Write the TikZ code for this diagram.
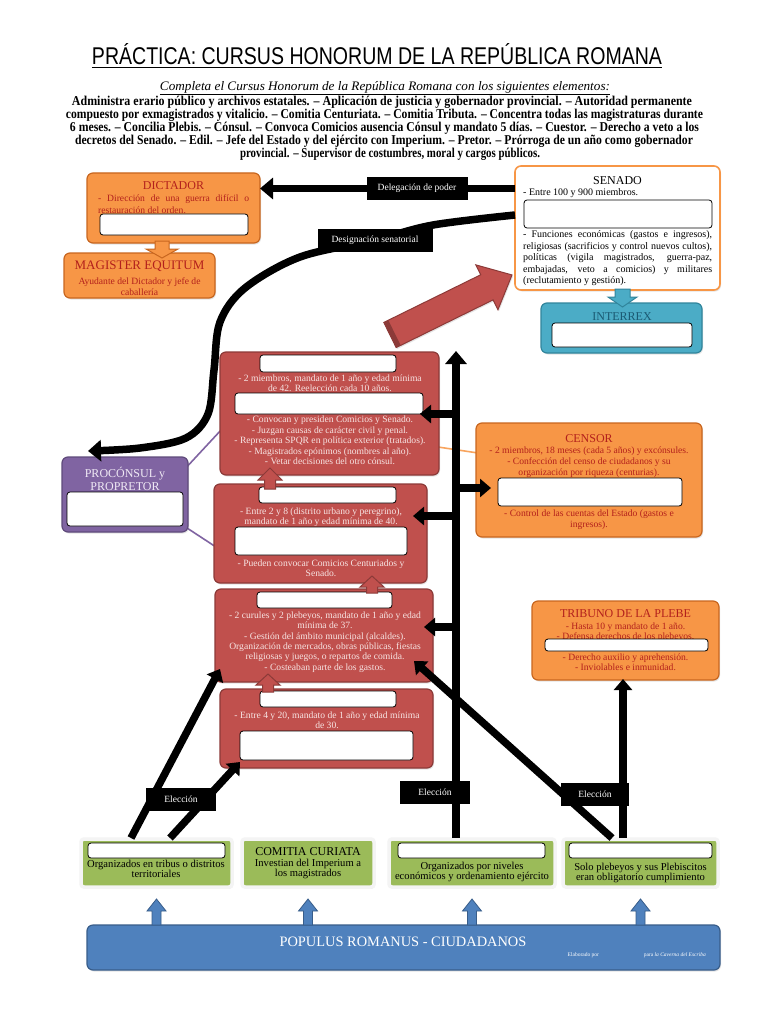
\documentclass[tikz,border=0pt]{standalone}
\usepackage{fontspec}
\usepackage{graphicx}
\setmainfont{Liberation Serif}
\newfontfamily\titlef{Liberation Sans}
\usetikzlibrary{arrows.meta,shadows,calc}
\definecolor{orF}{HTML}{F79646}
\definecolor{orD}{HTML}{C8661F}
\definecolor{orL}{HTML}{F8A45E}
\definecolor{dred}{HTML}{B3201C}
\definecolor{rF}{HTML}{C0504D}
\definecolor{rD}{HTML}{8C3A38}
\definecolor{rT}{HTML}{F7E4E3}
\definecolor{pF}{HTML}{8064A2}
\definecolor{pD}{HTML}{5F4A7B}
\definecolor{pT}{HTML}{F0EAF5}
\definecolor{cF}{HTML}{4BACC6}
\definecolor{cD}{HTML}{31859C}
\definecolor{cT}{HTML}{1B5A73}
\definecolor{gF}{HTML}{9BBB59}
\definecolor{gW}{HTML}{F4F4F4}
\definecolor{bF}{HTML}{4F81BD}
\definecolor{bD}{HTML}{385D8A}
\newcommand{\abox}[6]{\node[#1, minimum width={(#5-#3)*1pt}, minimum height={(#6-#4)*1pt}] (#2) at ({(#3+#5)/2},{(#4+#6)/2}) {};}
\tikzset{
  shd/.style={drop shadow={shadow xshift=1pt, shadow yshift=-1.5pt, opacity=.22}},
  bx/.style={rounded corners=6pt, line width=1.2pt, inner sep=0pt, outer sep=0pt},
  obox/.style={bx, shd, fill=orF, draw=orD},
  rbox/.style={bx, shd, fill=rF, draw=rD},
  pbox/.style={bx, shd, fill=pF, draw=pD},
  cbox/.style={bx, shd, fill=cF, draw=cD},
  sbox/.style={bx, shd, fill=white, draw=orF, line width=1.6pt},
  gbox/.style={rounded corners=3pt, shd, fill=gF, draw=gW, line width=3.5pt, inner sep=0pt},
  popbox/.style={bx, shd, fill=bF, draw=bD},
  blank/.style={rounded corners=3pt, fill=white, draw=black, line width=0.8pt, inner sep=0pt},
  rt/.style={inner sep=0pt, align=center, text=rT, font=\fontsize{9.6}{10.4}\selectfont},
  ot/.style={inner sep=0pt, align=center, text=dred, font=\fontsize{9.6}{10.8}\selectfont},
  bt/.style={inner sep=0pt, align=center, text=black, font=\fontsize{10}{11.5}\selectfont},
  gt/.style={inner sep=0pt, align=center, text=black, font=\fontsize{10.6}{10.5}\selectfont},
  lbl/.style={fill=black, text=white, inner sep=0pt, minimum height=23pt, font=\fontsize{9.5}{10}\selectfont},
  conn/.style={line width=7.5pt, draw=black},
  arr/.style={conn, -{Triangle[length=13pt,width=21pt]}},
  sarr/.style={conn, -{Triangle[length=11pt,width=18pt]}},
  thin/.style={line width=1.6pt},
  instr/.style={inner sep=0pt, font=\bfseries\fontsize{13.5}{14}\selectfont},
}
\begin{document}
\begin{tikzpicture}[x=1pt,y=-1pt]
\useasboundingbox (0,0) rectangle (768,1024);
\fill[white] (0,0) rectangle (768,1024);

% title and instructions
\node[font=\titlef, inner sep=0pt] (title) at (377,54) {\resizebox{570pt}{21pt}{PRÁCTICA: CURSUS HONORUM DE LA REPÚBLICA ROMANA}};
\draw[line width=1pt] ([yshift=-3pt]title.south west) -- ([yshift=-3pt]title.south east);
\node[inner sep=0pt, font=\itshape\fontsize{13}{14}\selectfont] (intro) at (385,88) {\resizebox{450pt}{\height}{\underline{Completa el Cursus Honorum de la República Romana con los siguientes elementos:}}};
\node[instr] (l1) at (382,102) {\resizebox{620pt}{\height}{Administra erario público y archivos estatales. – Aplicación de justicia y gobernador provincial. – Autoridad permanente}};
\node[instr] (l2) at (384.5,115) {\resizebox{637pt}{\height}{compuesto por exmagistrados y vitalicio. – Comitia Centuriata. – Comitia Tributa. – Concentra todas las magistraturas durante}};
\node[instr] (l3) at (384.5,128) {\resizebox{629pt}{\height}{6 meses. – Concilia Plebis. – Cónsul. – Convoca Comicios ausencia Cónsul y mandato 5 días. – Cuestor. – Derecho a veto a los}};
\node[instr] (l4) at (384,141) {\resizebox{618pt}{\height}{decretos del Senado. – Edil. – Jefe del Estado y del ejército con Imperium. – Pretor. – Prórroga de un año como gobernador}};
\node[instr] (l5) at (390,154) {\resizebox{300pt}{\height}{provincial. – Supervisor de costumbres, moral y cargos públicos.}};

% thin connecting lines (behind boxes)
\coordinate (pu1) at (183,471); \coordinate (pu2) at (222,429);
\coordinate (pl1) at (187,528); \coordinate (pl2) at (216,547);
\coordinate (oc1) at (438,447); \coordinate (oc2) at (478,453);
\draw[thin, pF] (pu1) -- (pu2);
\draw[thin, pF] (pl1) -- (pl2);
\draw[thin, orL] (oc1) -- (oc2);

% boxes
\abox{obox}{dict}{87}{173}{260}{243}
\abox{obox}{mag}{64}{253}{215}{298}
\abox{sbox}{sen}{515}{166}{720}{290}
\abox{cbox}{inter}{541}{303}{702}{353}
\abox{rbox}{cons}{220}{352}{439}{475}
\abox{rbox}{pret}{214}{484}{427}{583}
\abox{rbox}{edil}{215}{589}{433}{682}
\abox{rbox}{cues}{220}{689}{433}{768}
\abox{obox}{cens}{476}{423}{702}{537}
\abox{pbox}{proc}{62}{457}{188}{532}
\abox{obox}{trib}{532}{601}{719}{680}
\abox{gbox}{g1}{81}{839}{232}{887}
\abox{gbox}{g2}{242}{839}{374}{887}
\abox{gbox}{g3}{389}{839}{555}{887}
\abox{gbox}{g4}{563}{839}{718}{887}
\abox{popbox}{pop}{87}{925}{720}{970}

% texts
\node[ot, font=\fontsize{12}{13}\selectfont] (dictT) at (173.5,186) {DICTADOR};
\node[ot, anchor=west] (dict1) at (98,199) {\makebox[151pt][s]{- Dirección de una guerra difícil o}};
\node[ot, anchor=west] (dict2) at (98,210) {restauración del orden.};
\node[ot, font=\fontsize{13}{14}\selectfont] (magT) at (139.5,266) {MAGISTER EQUITUM};
\node[ot, font=\fontsize{9.6}{11}\selectfont] (magX) at (139.5,286.5) {Ayudante del Dictador y jefe de\\caballería};

\node[bt, font=\fontsize{12}{13}\selectfont] (senT) at (617.5,181) {SENADO};
\node[bt, anchor=west] (sen0) at (523,193) {- Entre 100 y 900 miembros.};
\node[bt, anchor=west] (sen1) at (523,235.5) {\makebox[189pt][s]{- Funciones económicas (gastos e ingresos),}};
\node[bt, anchor=west] (sen2) at (523,247) {\makebox[189pt][s]{religiosas (sacrificios y control nuevos cultos),}};
\node[bt, anchor=west] (sen3) at (523,258.5) {\makebox[189pt][s]{políticas (vigila magistrados, guerra-paz,}};
\node[bt, anchor=west] (sen4) at (523,270) {\makebox[189pt][s]{embajadas, veto a comicios) y militares}};
\node[bt, anchor=west] (sen5) at (523,281) {(reclutamiento y gestión).};

\node[inner sep=0pt, text=cT, font=\fontsize{12}{13}\selectfont] (interT) at (622,317) {INTERREX};

\node[rt] (cons1) at (330,383.5) {- 2 miembros, mandato de 1 año y edad mínima\\de 42. Reelección cada 10 años.};
\node[rt] (cons2) at (330,440.5) {- Convocan y presiden Comicios y Senado.\\- Juzgan causas de carácter civil y penal.\\- Representa SPQR en política exterior (tratados).\\- Magistrados epónimos (nombres al año).\\- Vetar decisiones del otro cónsul.};
\node[rt] (pret1) at (321,517) {- Entre 2 y 8 (distrito urbano y peregrino),\\mandato de 1 año y edad mínima de 40.};
\node[rt] (pret2) at (321,568) {- Pueden convocar Comicios Centuriados y\\Senado.};
\node[rt] (edil1) at (325,642) {- 2 curules y 2 plebeyos, mandato de 1 año y edad\\mínima de 37.\\- Gestión del ámbito municipal (alcaldes).\\Organización de mercados, obras públicas, fiestas\\religiosas y juegos, o repartos de comida.\\- Costeaban parte de los gastos.};
\node[rt] (cues1) at (327,720.5) {- Entre 4 y 20, mandato de 1 año y edad mínima\\de 30.};

\node[ot, font=\fontsize{12}{13}\selectfont] (censT) at (589,439) {CENSOR};
\node[ot] (cens1) at (589,462) {- 2 miembros, 18 meses (cada 5 años) y excónsules.\\- Confección del censo de ciudadanos y su\\organización por riqueza (centurias).};
\node[ot] (cens2) at (589,519.5) {- Control de las cuentas del Estado (gastos e\\ingresos).};

\node[inner sep=0pt, align=center, text=pT, font=\fontsize{12}{12.5}\selectfont] (procT) at (125,479) {PROCÓNSUL y\\PROPRETOR};

\node[ot, font=\fontsize{12}{13}\selectfont] (tribT) at (625.5,614) {TRIBUNO DE LA PLEBE};
\node[ot, font=\fontsize{9.6}{10}\selectfont] (trib1) at (625.5,632) {- Hasta 10 y mandato de 1 año.\\- Defensa derechos de los plebeyos.};
\node[ot, font=\fontsize{9.6}{10}\selectfont] (trib2) at (625.5,662) {- Derecho auxilio y aprehensión.\\- Inviolables e inmunidad.};

\node[gt] (g1t) at (156,869) {Organizados en tribus o distritos\\territoriales};
\node[gt, font=\fontsize{12}{13}\selectfont] (g2T) at (308,851.5) {COMITIA CURIATA};
\node[gt] (g2t) at (308,869) {Investian del Imperium a\\los magistrados};
\node[gt] (g3t) at (472,872) {Organizados por niveles\\económicos y ordenamiento ejército};
\node[gt] (g4t) at (640.5,873) {Solo plebeyos y sus Plebiscitos\\eran obligatorio cumplimiento};

\node[inner sep=0pt, text=white, font=\fontsize{14.4}{15}\selectfont] (popT) at (403,942) {POPULUS ROMANUS - CIUDADANOS};
\node[inner sep=0pt, text=white, anchor=east, font=\fontsize{5.5}{6}\selectfont] (popF) at (706,955) {Elaborado por \hspace*{42pt} para \textit{la Caverna del Escriba}};

% blank answer boxes
\abox{blank}{dictB}{100}{214}{248}{235}
\abox{blank}{senB}{524}{200}{712}{228}
\abox{blank}{interB}{552}{323}{692}{347}
\abox{blank}{consT}{260}{355}{396}{372}
\abox{blank}{consB}{235}{393}{423}{414}
\abox{blank}{pretT}{259}{487}{396}{503}
\abox{blank}{pretB}{235}{527}{407}{555}
\abox{blank}{edilT}{257}{592}{392}{608}
\abox{blank}{cuesT}{260}{691}{396}{707}
\abox{blank}{cuesB}{240}{731}{413}{760}
\abox{blank}{censB}{498}{478}{682}{506}
\abox{blank}{procB}{67}{492}{183}{526}
\abox{blank}{tribB}{545}{639}{708}{651}
\abox{blank}{g1B}{88}{843}{225}{858}
\abox{blank}{g3B}{398}{843}{545}{858}
\abox{blank}{g4B}{569}{843}{712}{858}

% block arrows
\filldraw[fill=orF, draw=orD, line width=1pt] (155,241) -- (169,241) -- (169,249) -- (178,249) -- (162,258) -- (146,249) -- (155,249) -- cycle;
\filldraw[fill=cF, draw=cD, line width=1pt] (615,289) -- (630,289) -- (630,297) -- (637,297) -- (622.5,307) -- (608,297) -- (615,297) -- cycle;
\filldraw[fill=rF, draw=rD, line width=1pt] (264.5,489) -- (264.5,480) -- (258,480) -- (270,468) -- (282,480) -- (275.5,480) -- (275.5,489) -- cycle;
\filldraw[fill=rF, draw=rD, line width=1pt] (366.5,593) -- (366.5,587) -- (360,587) -- (372,576) -- (384,587) -- (377.5,587) -- (377.5,593) -- cycle;
\filldraw[fill=rF, draw=rD, line width=1pt] (262.5,692) -- (262.5,685) -- (256,685) -- (268,674) -- (280,685) -- (273.5,685) -- (273.5,692) -- cycle;
\begin{scope}[shift={(390,335)}, rotate=26.2]
  \filldraw[fill=rF, draw=rD, line width=1pt, drop shadow={shadow xshift=1pt, shadow yshift=-1.5pt, opacity=.22}] (0,-14) -- (108,-14) -- (108,-25) -- (136,0) -- (108,25) -- (108,14) -- (0,14) -- cycle;
  \fill[rD] (0,-14) -- (5,-14) -- (5,14) -- (0,14) -- cycle;
\end{scope}

% black connectors
\coordinate (spB) at (456,838); \coordinate (spT) at (456,351);
\coordinate (sp1) at (456,414); \coordinate (t1) at (420,414);
\coordinate (sp2) at (456,516); \coordinate (t2) at (413,516);
\coordinate (sp3) at (456,627); \coordinate (t3) at (424,627);
\coordinate (sp4) at (456,488); \coordinate (t4) at (491,488);
\coordinate (trS) at (623,838); \coordinate (trE) at (623,679);
\coordinate (dL1) at (131,838); \coordinate (dL1e) at (220,669);
\coordinate (dL2) at (170,838); \coordinate (dL2e) at (240,762);
\coordinate (dR) at (612,838); \coordinate (dRe) at (414,661);
\coordinate (desS) at (515,215); \coordinate (desE) at (88,451);

\node[lbl, minimum width=101pt] (dlab) at (417,188.5) {Delegación de poder};
\node[lbl, minimum width=115pt] (slab) at (375,240.5) {Designación senatorial};

\draw[arr] (sen.west |- dlab) -- (dict.east |- dlab);
\draw[arr] plot[smooth, tension=0.55] coordinates {(desS) (433,225) (375,240) (300,257) (245,288) (220,322) (214,370) (208,414) (186,438) (140,448) (desE)};
\draw[arr] (spB) -- (spT);
\draw[sarr] (sp1) -- (t1);
\draw[sarr] (sp2) -- (t2);
\draw[sarr] (sp3) -- (t3);
\draw[sarr] (sp4) -- (t4);
\draw[sarr] (trS) -- (trE);
\draw[sarr] (dL1) -- (dL1e);
\draw[sarr] (dL2) -- (dL2e);
\draw[sarr] (dR) -- (dRe);

% labels on top
\node[lbl, minimum width=101pt] at (dlab) {Delegación de poder};
\node[lbl, minimum width=115pt] at (slab) {Designación senatorial};
\node[lbl, minimum width=70pt] (e1) at (181,799.5) {Elección};
\node[lbl, minimum width=70pt] (e2) at (435,792.5) {Elección};
\node[lbl, minimum width=68pt] (e3) at (595,794) {Elección};

% blue arrows from the people
\foreach \g in {g1,g2,g3,g4}{
  \coordinate (ab) at (\g.south |- pop.north);
  \filldraw[fill=bF, draw=bD, line width=0.8pt] ([xshift=-4.5pt]ab) -- ++(0,-14) -- ++(-5,0) -- ([yshift=26pt]ab) -- ([xshift=9.5pt,yshift=14pt]ab) -- ++(-5,0) -- ([xshift=4.5pt]ab) -- cycle;
}
\end{tikzpicture}
\end{document}
